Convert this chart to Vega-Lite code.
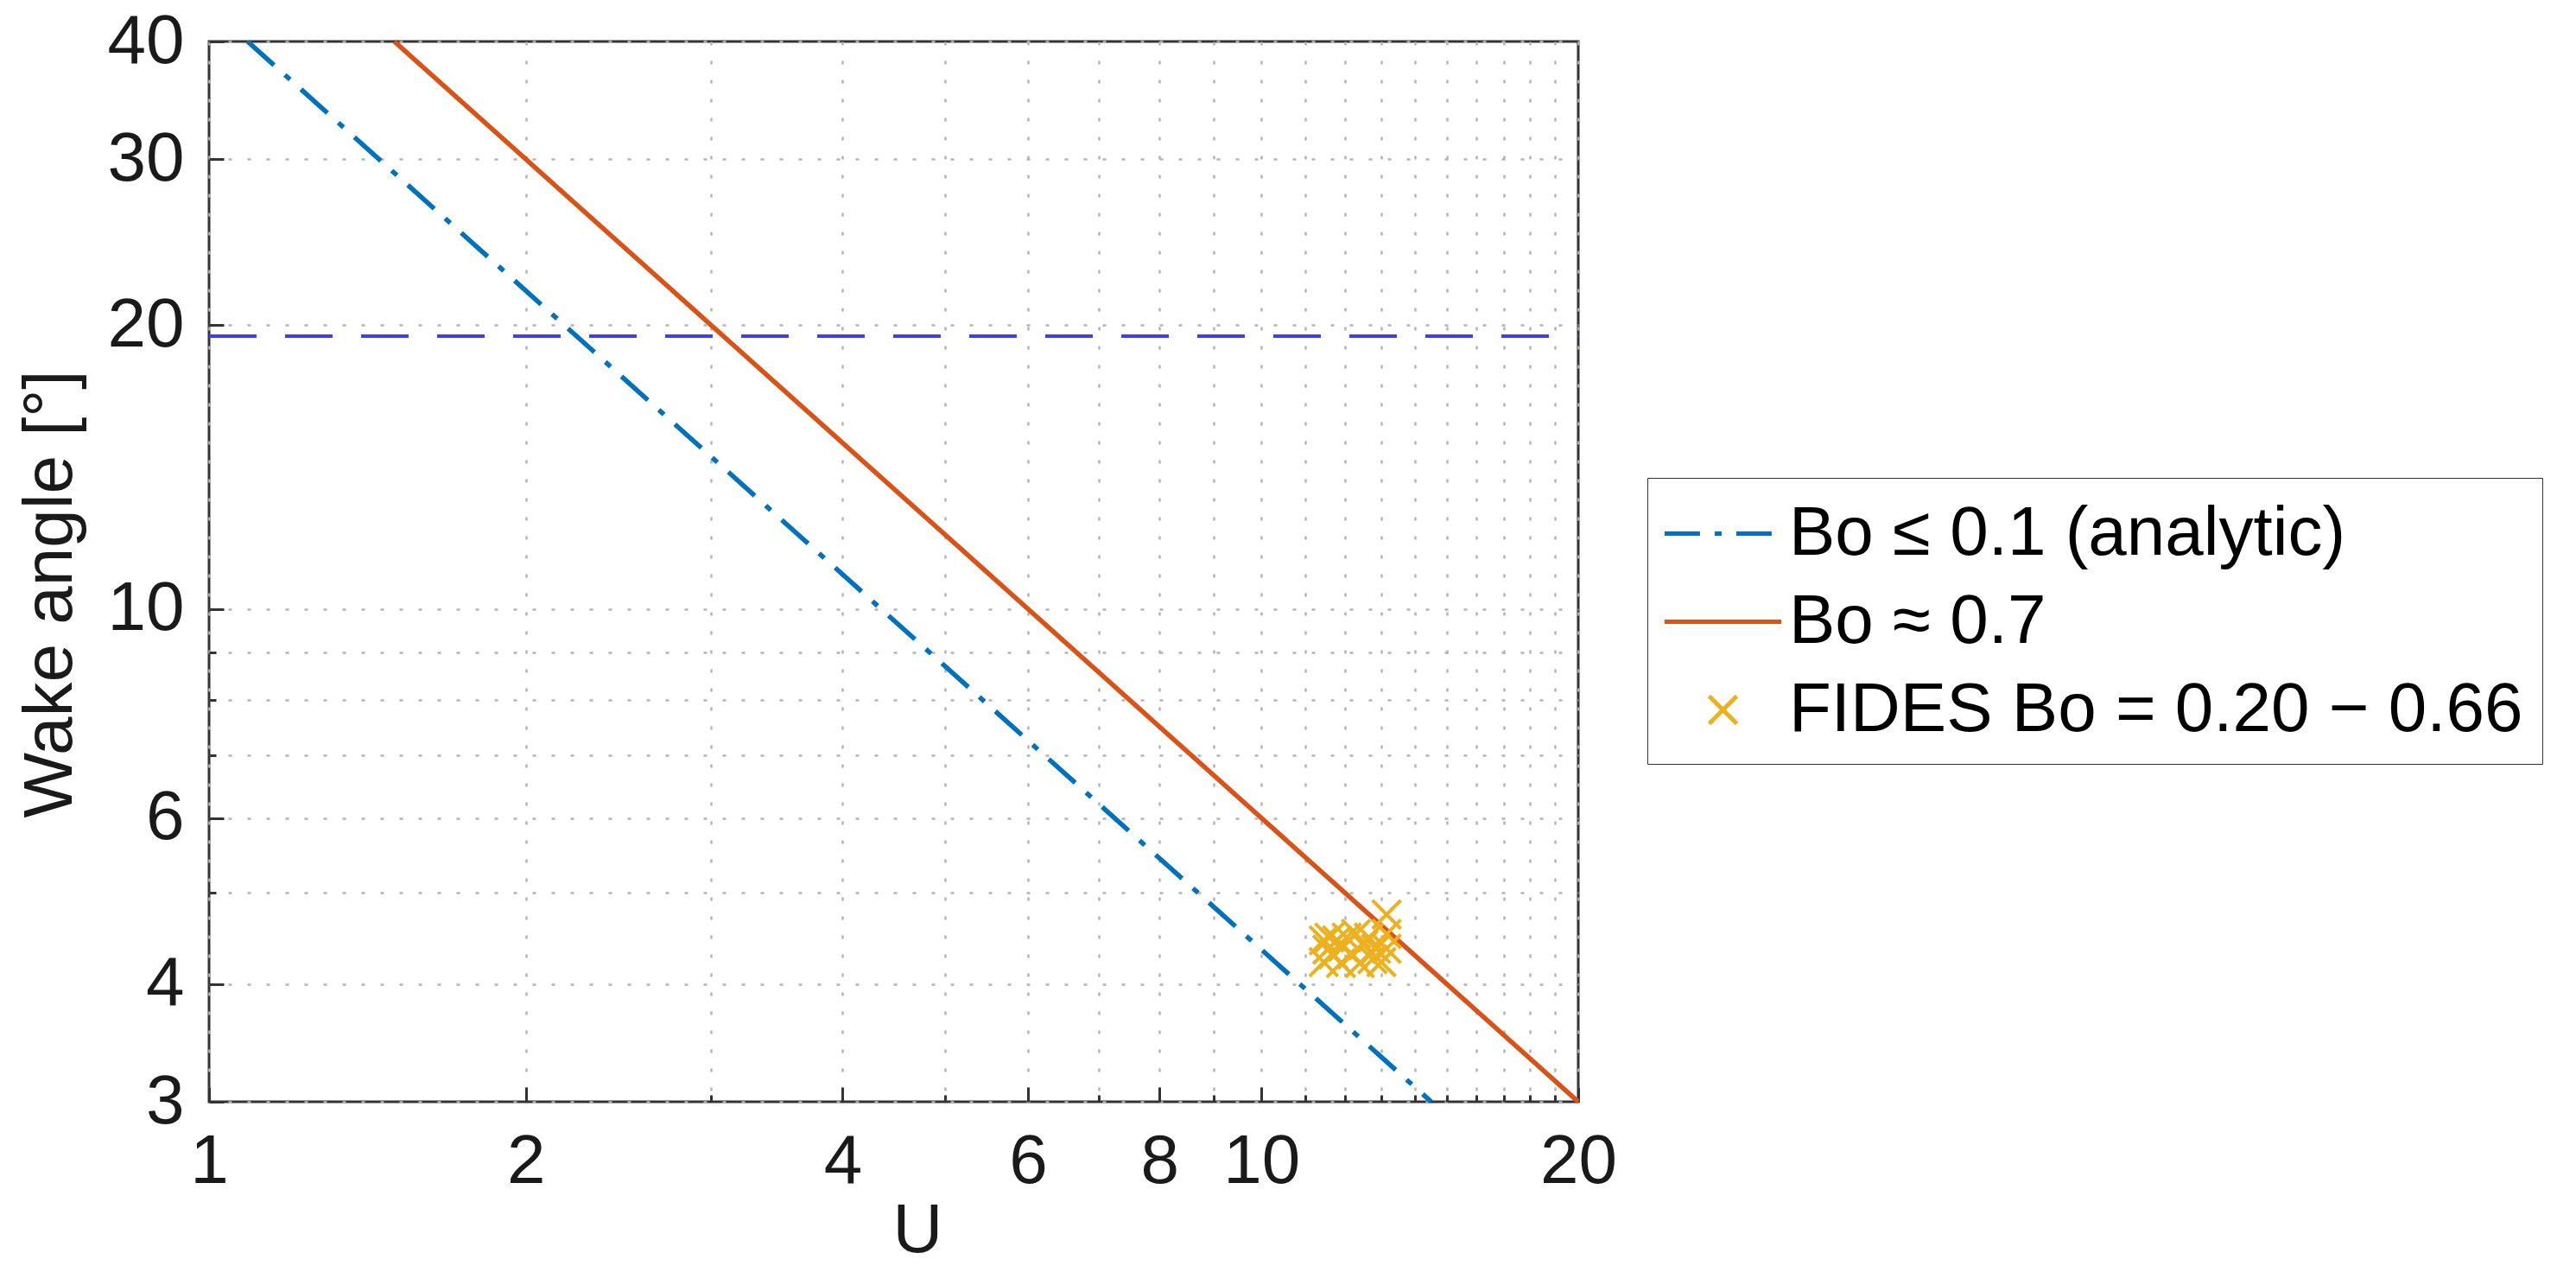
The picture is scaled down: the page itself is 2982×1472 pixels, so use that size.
{
  "$schema": "https://vega.github.io/schema/vega-lite/v6.json",
  "width": 1585,
  "height": 1227,
  "autosize": {"type": "none"},
  "padding": {"left": 242, "top": 48, "right": 1155, "bottom": 197},
  "background": "white",
  "config": {
    "view": {"stroke": "#333333", "strokeWidth": 3},
    "font": "Liberation Sans"
  },
  "encoding": {
    "x": {"field": "U", "type": "quantitative",
      "scale": {"type": "log", "domain": [1, 20], "nice": false, "zero": false},
      "axis": {"orient": "bottom", "values": [1,2,3,4,5,6,7,8,9,10,11,12,13,14,15,16,17,18,19,20],
        "labelExpr": "(datum.value == 1 || datum.value == 2 || datum.value == 4 || datum.value == 6 || datum.value == 8 || datum.value == 10 || datum.value == 20) ? '' + datum.value : ''",
        "grid": true, "gridDash": [4, 18], "gridColor": "#b4b4b4", "gridWidth": 2.5,
        "ticks": true, "tickColor": "#333333", "tickWidth": 3,
        "tickSize": {"condition": {"test": "datum.value == 1 || datum.value == 2 || datum.value == 4 || datum.value == 6 || datum.value == 8 || datum.value == 10 || datum.value == 20", "value": -17}, "value": -8},
        "domain": false,
        "labelPadding": 47, "labelFontSize": 80, "labelFont": "Liberation Sans", "labelColor": "#1a1a1a",
        "labelFlush": false, "labelOverlap": false,
        "title": "U", "titleFontSize": 80, "titleFont": "Liberation Sans", "titleFontWeight": "normal", "titleColor": "#1a1a1a",
        "titleX": 820, "titleY": 173, "titleBaseline": "alphabetic", "titleAlign": "center"}},
    "y": {"field": "A", "type": "quantitative",
      "scale": {"type": "log", "domain": [3, 40], "nice": false, "zero": false},
      "axis": {"orient": "left", "values": [3,4,5,6,7,8,9,10,20,30,40],
        "labelExpr": "(datum.value == 3 || datum.value == 4 || datum.value == 6 || datum.value == 10 || datum.value == 20 || datum.value == 30 || datum.value == 40) ? '' + datum.value : ''",
        "grid": true, "gridDash": [4, 18], "gridColor": "#b4b4b4", "gridWidth": 2.5,
        "ticks": true, "tickColor": "#333333", "tickWidth": 3,
        "tickSize": {"condition": {"test": "datum.value == 3 || datum.value == 4 || datum.value == 6 || datum.value == 10 || datum.value == 20 || datum.value == 30 || datum.value == 40", "value": -17}, "value": -8},
        "domain": false,
        "labelPadding": 46, "labelFontSize": 80, "labelFont": "Liberation Sans", "labelColor": "#1a1a1a",
        "labelFlush": false, "labelOverlap": false,
        "title": "Wake angle [°]", "titleFontSize": 80, "titleFont": "Liberation Sans", "titleFontWeight": "normal", "titleColor": "#1a1a1a",
        "titleX": -160, "titleY": 639, "titleBaseline": "alphabetic", "titleAlign": "center", "titleAngle": 270}}
  },
  "layer": [
    {
      "data": {"values": [
        {"U": 1.088, "A": 40, "series": "Bo ≤ 0.1 (analytic)"},
        {"U": 14.5, "A": 3, "series": "Bo ≤ 0.1 (analytic)"}
      ]},
      "mark": {"type": "line", "strokeWidth": 5.5},
      "encoding": {
        "color": {"field": "series", "type": "nominal",
          "scale": {"domain": ["Bo ≤ 0.1 (analytic)", "Bo ≈ 0.7", "FIDES Bo = 0.20 − 0.66"], "range": ["#0072BD", "#D95319", "#EDB120"]},
          "legend": {
            "orient": "none", "legendX": 1665, "legendY": 505,
            "title": null,
            "padding": 22, "rowPadding": 19,
            "strokeColor": "#333333", "fillColor": "white",
            "labelFont": "Liberation Sans", "labelFontSize": 80, "labelColor": "#000000", "labelLimit": 2000,
            "symbolSize": 6400, "symbolOffset": 23, "labelOffset": 34, "symbolStrokeWidth": 5
          }},
        "strokeDash": {"field": "series", "type": "nominal",
          "scale": {"domain": ["Bo ≤ 0.1 (analytic)", "Bo ≈ 0.7", "FIDES Bo = 0.20 − 0.66"], "range": [[41, 17, 8, 17], [1, 0], [1, 0]]},
          "legend": {
            "orient": "none", "legendX": 1665, "legendY": 505,
            "title": null,
            "padding": 22, "rowPadding": 19,
            "strokeColor": "#333333", "fillColor": "white",
            "labelFont": "Liberation Sans", "labelFontSize": 80, "labelColor": "#000000", "labelLimit": 2000,
            "symbolSize": 6400, "symbolOffset": 23, "labelOffset": 34, "symbolStrokeWidth": 5
          }}
      }
    },
    {
      "data": {"values": [
        {"U": 1.5, "A": 40, "series": "Bo ≈ 0.7"},
        {"U": 20, "A": 3, "series": "Bo ≈ 0.7"}
      ]},
      "mark": {"type": "line", "strokeWidth": 5.5},
      "encoding": {
        "color": {"field": "series", "type": "nominal"},
        "strokeDash": {"field": "series", "type": "nominal"}
      }
    },
    {
      "data": {"values": [
        {"U": 1, "A": 19.47},
        {"U": 20, "A": 19.47}
      ]},
      "mark": {"type": "line", "strokeWidth": 4, "strokeDash": [55, 33], "color": "#3d3dff"},
      "encoding": {}
    },
    {
      "data": {"values": [
        {"U": 11.46, "A": 4.45, "series": "FIDES Bo = 0.20 − 0.66"},
        {"U": 11.46, "A": 4.22, "series": "FIDES Bo = 0.20 − 0.66"},
        {"U": 11.55, "A": 4.35, "series": "FIDES Bo = 0.20 − 0.66"},
        {"U": 11.6, "A": 4.48, "series": "FIDES Bo = 0.20 − 0.66"},
        {"U": 11.7, "A": 4.30, "series": "FIDES Bo = 0.20 − 0.66"},
        {"U": 11.8, "A": 4.45, "series": "FIDES Bo = 0.20 − 0.66"},
        {"U": 11.9, "A": 4.21, "series": "FIDES Bo = 0.20 − 0.66"},
        {"U": 11.95, "A": 4.38, "series": "FIDES Bo = 0.20 − 0.66"},
        {"U": 12.05, "A": 4.48, "series": "FIDES Bo = 0.20 − 0.66"},
        {"U": 12.2, "A": 4.30, "series": "FIDES Bo = 0.20 − 0.66"},
        {"U": 12.3, "A": 4.52, "series": "FIDES Bo = 0.20 − 0.66"},
        {"U": 12.4, "A": 4.21, "series": "FIDES Bo = 0.20 − 0.66"},
        {"U": 12.5, "A": 4.40, "series": "FIDES Bo = 0.20 − 0.66"},
        {"U": 12.65, "A": 4.48, "series": "FIDES Bo = 0.20 − 0.66"},
        {"U": 12.75, "A": 4.25, "series": "FIDES Bo = 0.20 − 0.66"},
        {"U": 12.85, "A": 4.36, "series": "FIDES Bo = 0.20 − 0.66"},
        {"U": 13.15, "A": 4.74, "series": "FIDES Bo = 0.20 − 0.66"},
        {"U": 13.15, "A": 4.52, "series": "FIDES Bo = 0.20 − 0.66"},
        {"U": 13.15, "A": 4.36, "series": "FIDES Bo = 0.20 − 0.66"},
        {"U": 13.0, "A": 4.22, "series": "FIDES Bo = 0.20 − 0.66"}
      ]},
      "mark": {"type": "point", "filled": false, "size": 6724, "strokeWidth": 4, "opacity": 1},
      "encoding": {
        "color": {"field": "series", "type": "nominal"},
        "shape": {"field": "series", "type": "nominal",
          "scale": {"domain": ["Bo ≤ 0.1 (analytic)", "Bo ≈ 0.7", "FIDES Bo = 0.20 − 0.66"], "range": ["M-1.69,0L1.69,0", "M-1.69,0L1.69,0", "M-0.4,-0.4L0.4,0.4M-0.4,0.4L0.4,-0.4"]},
          "legend": {
            "orient": "none", "legendX": 1665, "legendY": 505,
            "title": null,
            "padding": 22, "rowPadding": 19,
            "strokeColor": "#333333", "fillColor": "white",
            "labelFont": "Liberation Sans", "labelFontSize": 80, "labelColor": "#000000", "labelLimit": 2000,
            "symbolSize": 6400, "symbolOffset": 23, "labelOffset": 34, "symbolStrokeWidth": 5
          }}
      }
    },
    {
      "data": {"values": [{"U": 2}, {"U": 4}, {"U": 6}, {"U": 8}, {"U": 10}]},
      "mark": {"type": "tick", "orient": "vertical", "size": 17, "thickness": 3, "yOffset": 8.5, "color": "#333333", "opacity": 1},
      "encoding": {"y": {"datum": 40}}
    },
    {
      "data": {"values": [{"U": 3}, {"U": 5}, {"U": 7}, {"U": 9}, {"U": 11}, {"U": 12}, {"U": 13}, {"U": 14}, {"U": 15}, {"U": 16}, {"U": 17}, {"U": 18}, {"U": 19}]},
      "mark": {"type": "tick", "orient": "vertical", "size": 8, "thickness": 3, "yOffset": 4, "color": "#333333", "opacity": 1},
      "encoding": {"y": {"datum": 40}}
    },
    {
      "data": {"values": [{"A": 4}, {"A": 6}, {"A": 10}, {"A": 20}, {"A": 30}]},
      "mark": {"type": "tick", "orient": "horizontal", "size": 17, "thickness": 3, "xOffset": -8.5, "color": "#333333", "opacity": 1},
      "encoding": {"x": {"datum": 20}}
    },
    {
      "data": {"values": [{"A": 5}, {"A": 7}, {"A": 8}, {"A": 9}]},
      "mark": {"type": "tick", "orient": "horizontal", "size": 8, "thickness": 3, "xOffset": -4, "color": "#333333", "opacity": 1},
      "encoding": {"x": {"datum": 20}}
    }
  ]
}
